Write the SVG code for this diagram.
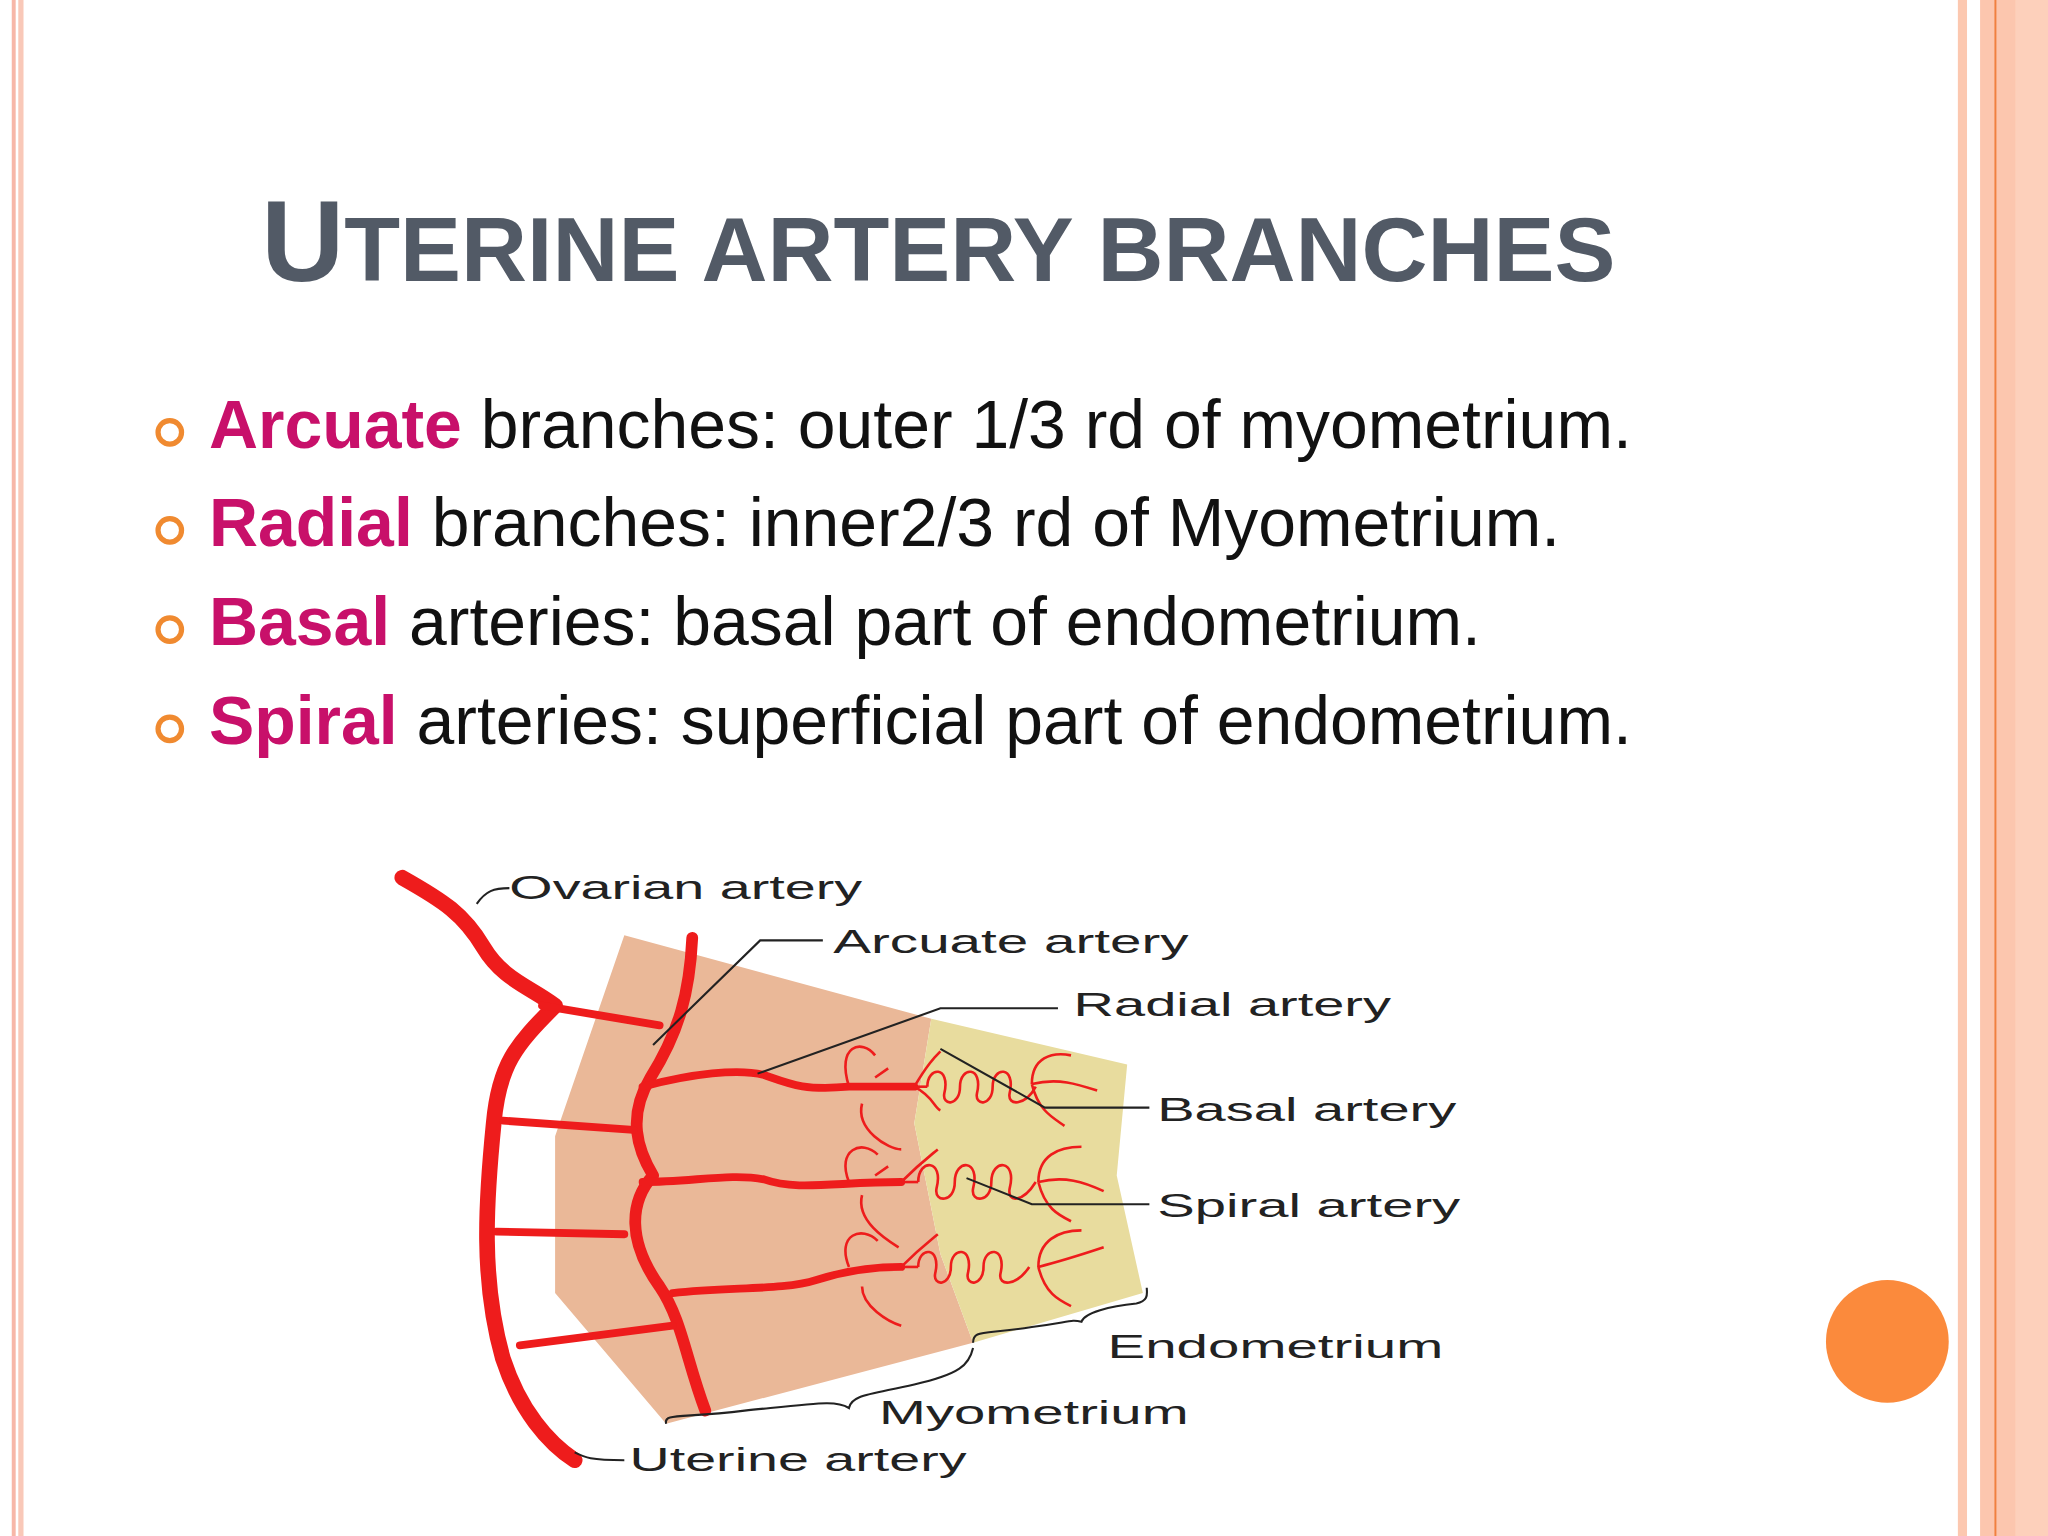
<svg xmlns="http://www.w3.org/2000/svg" width="2048" height="1536" viewBox="0 0 2048 1536">
<style>
.t{font-family:"Liberation Sans",Arial,sans-serif}
.lbl{font-family:"Liberation Sans",Arial,sans-serif;font-size:26px;fill:#222}
.b{font-family:"Liberation Sans",Arial,sans-serif;font-size:52px;fill:#111}
.k{fill:#c8106a;font-weight:bold}
.art{fill:none;stroke:#ee1c1c;stroke-linecap:round;stroke-linejoin:round}
.thin{fill:none;stroke:#ee1c1c;stroke-width:2}
.ld{fill:none;stroke:#222;stroke-width:1.6}
</style>
<rect width="2048" height="1536" fill="#fff"/>
<g transform="scale(1.30612)">
<rect x="9" y="0" width="3" height="1176" fill="#f7b7a8"/>
<rect x="14" y="0" width="4" height="1176" fill="#f9c8b8"/>
<rect x="1499" y="0" width="7" height="1176" fill="#fcc8b0"/>
<rect x="1516" y="0" width="52" height="1176" fill="#fcc6ae"/>
<rect x="1527" y="0" width="1.5" height="1176" fill="#f08040"/>
<rect x="1543" y="0" width="25" height="1176" fill="#fdd0bb"/>

<text class="t" x="200" y="215" fill="#525a66" font-weight="bold" font-size="70"><tspan font-size="88">U</tspan>TERINE ARTERY BRANCHES</text>

<g fill="none" stroke="#f08a30" stroke-width="4">
<circle cx="130" cy="331" r="9"/><circle cx="130" cy="406" r="9"/><circle cx="130" cy="482" r="9"/><circle cx="130" cy="558" r="9"/>
</g>
<text class="b" x="160" y="343"><tspan class="k">Arcuate</tspan> branches: outer 1/3 rd of myometrium.</text>
<text class="b" x="160" y="418"><tspan class="k">Radial</tspan> branches: inner2/3 rd of Myometrium.</text>
<text class="b" x="160" y="494"><tspan class="k">Basal</tspan> arteries: basal part of endometrium.</text>
<text class="b" x="160" y="570"><tspan class="k">Spiral</tspan> arteries: superficial part of endometrium.</text>

<circle cx="1445" cy="1027" r="47" fill="#fb8a3c"/>

<g id="myometrium"><polygon points="478,716 713,780 700,860 720,960 745,1028 510,1090 425,990 425,870" fill="#eab898"/></g>
<g id="endometrium"><polygon points="713,780 863,815 855,900 875,990 745,1028 720,960 700,860" fill="#e8dc9e"/></g>

<g id="arteries">
<path class="art" stroke-width="12" d="M308,672 C340,690 355,700 370,725 C385,750 405,755 425,770 C395,800 382,815 378,860 C372,920 368,980 385,1040 C398,1080 420,1105 440,1118"/>
<path class="art" stroke-width="9" d="M530,718 C528,760 520,790 498,825 C480,855 488,880 500,900 C482,920 480,950 505,985 C522,1010 525,1040 540,1080"/>
<g class="art" stroke-width="6">
<path d="M415,770 L505,785"/><path d="M385,858 L485,865"/><path d="M380,943 L478,945"/><path d="M398,1030 L515,1015"/>
<path d="M492,832 C530,822 565,818 585,823 C605,830 615,835 650,832 L700,832"/>
<path d="M492,905 C530,905 560,898 585,903 C610,912 640,905 690,905"/>
<path d="M515,990 C560,985 600,988 625,980 C650,972 670,970 690,970"/>
</g>
<g class="thin" stroke-width="2.5">
<path d="M650,832 C640,800 660,795 670,808 M660,845 C655,865 680,880 690,880 M670,825 L680,818 M700,832 C710,815 715,810 720,805 M700,832 C715,840 715,848 720,850"/>
<path d="M650,905 C640,880 660,872 672,884 M660,915 C655,935 680,950 688,955 M670,900 L680,893 M690,905 C705,890 712,885 718,880"/>
<path d="M650,970 C640,945 660,938 672,950 M660,985 C660,1000 680,1012 690,1015 M690,970 C705,955 712,950 718,945"/>
<path d="M700,832 L710,832"/><path d="M690,905 L703,905"/><path d="M690,970 L703,970"/>
</g>
<g class="thin" stroke-width="3.5">
<path d="M710,832 c0,-16 18,-16 13,5 c-2,10 12,10 12,-5 c0,-16 18,-16 13,5 c-2,10 12,10 12,-5 c0,-16 18,-16 13,5 c-2,10 12,10 20,-5"/>
<path d="M703,905 c0,-18 20,-18 14,5 c-2,11 14,11 14,-5 c0,-18 20,-18 14,5 c-2,11 14,11 14,-5 c0,-18 20,-18 14,5 c-2,11 10,11 20,-5"/>
<path d="M703,970 c0,-16 18,-16 13,5 c-2,10 12,10 12,-5 c0,-16 18,-16 13,5 c-2,10 12,10 12,-5 c0,-16 18,-16 13,5 c-2,10 12,10 22,-5"/>
</g>
<g class="thin" stroke-width="2.5">
<path d="M790,830 C790,810 805,805 820,808 M790,830 C810,825 825,830 840,835 M790,830 C795,850 805,855 815,862"/>
<path d="M795,905 C795,885 810,878 828,878 M795,905 C815,900 830,905 845,912 M795,905 C800,925 810,930 820,935"/>
<path d="M795,970 C795,950 810,942 828,942 M795,970 C815,965 830,960 845,955 M795,970 C800,990 810,995 820,1000"/>
</g>
</g>

<g id="connectors">
<path class="ld" d="M365,692 C372,682 378,680 390,680"/>
<path class="ld" d="M500,800 L582,720 L630,720"/>
<path class="ld" d="M580,822 L720,772 L810,772"/>
<path class="ld" d="M720,803 L800,848 L880,848"/>
<path class="ld" d="M740,902 L790,922 L880,922"/>
<path class="ld" d="M745,1028 C745,1018 752,1022 790,1016 C820,1012 820,1010 828,1012 C830,1005 850,1000 870,998 C880,996 878,990 878,986"/>
<path class="ld" d="M510,1090 C508,1082 520,1086 570,1080 C630,1074 640,1072 650,1078 C652,1068 665,1068 700,1060 C735,1052 742,1045 745,1032"/>
<path class="ld" d="M440,1112 C448,1116 452,1118 478,1118"/>
</g>

<g id="labels">
<text class="lbl" x="390" y="688" textLength="270" lengthAdjust="spacingAndGlyphs">Ovarian artery</text>
<text class="lbl" x="638" y="730" textLength="272" lengthAdjust="spacingAndGlyphs">Arcuate artery</text>
<text class="lbl" x="822" y="778" textLength="243" lengthAdjust="spacingAndGlyphs">Radial artery</text>
<text class="lbl" x="886" y="858" textLength="229" lengthAdjust="spacingAndGlyphs">Basal artery</text>
<text class="lbl" x="886" y="932" textLength="232" lengthAdjust="spacingAndGlyphs">Spiral artery</text>
<text class="lbl" x="848" y="1040" textLength="257" lengthAdjust="spacingAndGlyphs">Endometrium</text>
<text class="lbl" x="673" y="1090" textLength="237" lengthAdjust="spacingAndGlyphs">Myometrium</text>
<text class="lbl" x="482" y="1126" textLength="258" lengthAdjust="spacingAndGlyphs">Uterine artery</text>
</g>
</g>
</svg>
